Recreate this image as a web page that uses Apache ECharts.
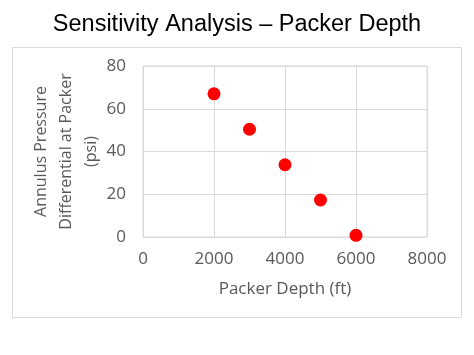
<!DOCTYPE html>
<html><head><meta charset="utf-8">
<script src="https://cdn.jsdelivr.net/npm/echarts@6/dist/echarts.min.js"></script>
<style>html,body{margin:0;padding:0;background:#fff}#c{width:474px;height:355px}</style>
</head><body><div id="c"></div>
<script>
const titleText = "Sensitivity Analysis – Packer Depth";
const xAxisName = "Packer Depth (ft)";
const yAxisName = "Annulus Pressure\nDifferential at Packer\n(psi)";
const packerDepth = [2000, 3000, 4000, 5000, 6000];
const pressureDiff = [67, 50.4, 33.8, 17.3, 0.8];

const chart = echarts.init(document.getElementById('c'), null, {renderer: 'canvas'});
const labelFont = "'Open Sans', sans-serif";
chart.setOption({
  animation: false,
  backgroundColor: '#ffffff',
  title: {
    text: titleText, left: 'center', top: 8,
    textStyle: {fontFamily: "'Liberation Sans', Arial, sans-serif", fontSize: 23.5, fontWeight: 'normal', color: '#000'}
  },
  graphic: [{
    type: 'rect', shape: {x: 12.5, y: 47.5, width: 449, height: 270},
    style: {fill: 'none', stroke: '#d9d9d9', lineWidth: 1}, silent: true
  }],
  grid: {left: 143, right: 47, top: 66, bottom: 118, containLabel: false, outerBoundsMode: 'none',
         show: true, borderColor: '#d9d9d9', borderWidth: 1},
  xAxis: {
    type: 'value', min: 0, max: 8000, interval: 2000,
    name: xAxisName, nameLocation: 'middle', nameGap: 44,
    nameTextStyle: {fontFamily: labelFont, fontSize: 17, color: '#595959'},
    axisLine: {show: false}, axisTick: {show: false},
    axisLabel: {fontFamily: labelFont, fontSize: 17, color: '#595959', margin: 14,
                formatter: v => String(v)},
    splitLine: {show: true, lineStyle: {color: '#d9d9d9', width: 1}}
  },
  yAxis: {
    type: 'value', min: 0, max: 80, interval: 20,
    name: yAxisName, nameLocation: 'middle', nameGap: 39, nameRotate: 90, nameMoveOverlap: false,
    nameTextStyle: {fontFamily: labelFont, fontSize: 16, color: '#595959', lineHeight: 25},
    axisLine: {show: false}, axisTick: {show: false},
    axisLabel: {fontFamily: labelFont, fontSize: 17, color: '#595959', margin: 17,
                formatter: v => String(v)},
    splitLine: {show: true, lineStyle: {color: '#d9d9d9', width: 1}}
  },
  series: [{
    type: 'scatter', symbol: 'circle', symbolSize: 13,
    itemStyle: {color: '#ff0000', opacity: 1},
    data: packerDepth.map((x, i) => [x, pressureDiff[i]])
  }]
});
</script></body></html>
